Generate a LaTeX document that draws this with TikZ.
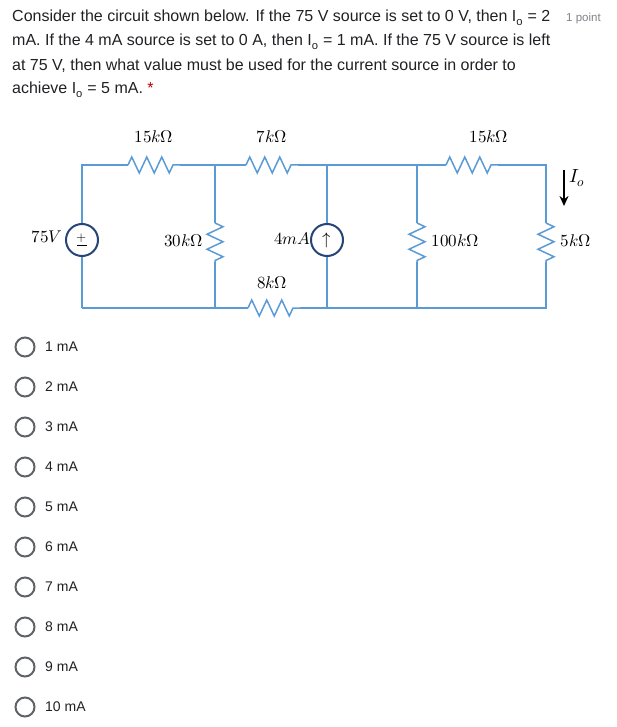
\documentclass[tikz,border=0pt]{standalone}
\usepackage{fontspec}
\setmainfont{Liberation Sans}
\usepackage{unicode-math}
\setmathfont{Latin Modern Math}
\usetikzlibrary{decorations.pathmorphing,arrows.meta}
\definecolor{wire}{RGB}{91,155,213}
\definecolor{srcc}{RGB}{38,68,120}
\definecolor{txt}{RGB}{32,33,36}
\definecolor{radio}{RGB}{95,99,104}
\tikzset{
  wirel/.style={draw=wire,line width=2.6pt},
  res/.style={draw=wire,line width=1.5pt,decorate,decoration={zigzag,segment length=15pt,amplitude=8pt}},
  src/.style={circle,draw=srcc,line width=2pt,minimum size=32pt,inner sep=0pt,fill=white},
  lbl/.style={font=\fontsize{17}{20}\selectfont},
  qtext/.style={anchor=west,text=txt,font=\fontsize{16}{19}\selectfont,inner sep=0pt},
  opt/.style={circle,draw=radio,line width=2pt,minimum size=19pt,inner sep=0pt},
  optl/.style={anchor=west,text=txt,font=\fontsize{14}{16}\selectfont,inner sep=0pt}
}
\begin{document}
\begin{tikzpicture}[x=1pt,y=-1pt]
\useasboundingbox (0,0) rectangle (617,727);
\node[qtext] (q1) at (12,18) {Consider the circuit shown below. If the 75 V source is set to 0 V, then I\textsubscript{o} = 2};
\node[anchor=west,text=radio!80,font=\fontsize{11.5}{13}\selectfont,inner sep=0pt] (pt) at (566,19) {1 point};
\node[qtext] (q2) at (12,42) {mA. If the 4 mA source is set to 0 A, then I\textsubscript{o} = 1 mA. If the 75 V source is left};
\node[qtext] (q3) at (12,66) {at 75 V, then what value must be used for the current source in order to};
\node[qtext] (q4) at (12,90) {achieve I\textsubscript{o} = 5 mA. \textcolor{red!70!black}{*}};
% nodes
\coordinate (tl) at (82,165); \coordinate (bl) at (82,308);
\coordinate (t1) at (215,165); \coordinate (b1) at (215,308);
\coordinate (t2) at (327,165); \coordinate (b2) at (327,308);
\coordinate (t3) at (417,165); \coordinate (b3) at (417,308);
\coordinate (t4) at (546,165); \coordinate (b4) at (546,308);
\coordinate (r1a) at (128,165); \coordinate (r1b) at (180,165);
\coordinate (r2a) at (246,165); \coordinate (r2b) at (298,165);
\coordinate (r3a) at (446,165); \coordinate (r3b) at (498,165);
\coordinate (r4a) at (215,223); \coordinate (r4b) at (215,262);
\coordinate (r5a) at (417,223); \coordinate (r5b) at (417,262);
\coordinate (r6a) at (546,223); \coordinate (r6b) at (546,262);
\coordinate (r7a) at (248,308); \coordinate (r7b) at (300,308);
\path[wirel] (bl) -- (tl) -- (r1a) (r1b) -- (r2a) (r2b) -- (r3a) (r3b) -- (t4) -- (r6a)
  (r6b) -- (b4) -- (r7b) (r7a) -- (bl)
  (t1) -- (r4a) (r4b) -- (b1) (t3) -- (r5a) (r5b) -- (b3) (t2) -- (b2);
\path[res] (r1a) -- (r1b); \path[res] (r2a) -- (r2b); \path[res] (r3a) -- (r3b);
\path[res] (r4a) -- (r4b); \path[res] (r5a) -- (r5b); \path[res] (r6a) -- (r6b);
\path[res] (r7a) -- (r7b);
\node[src] (vs) at (82,240) {\fontsize{13}{13}\selectfont$\underline{+}$};
\node[src] (cs) at (327,240) {\fontsize{17}{17}\selectfont$\boldsymbol{\uparrow}$};
\node[lbl] (l1) at (154,137) {$15k\Omega$};
\node[lbl] (l2) at (272,137) {$7k\Omega$};
\node[lbl] (l3) at (489,137) {$15k\Omega$};
\node[lbl,anchor=east] (l4) at (206,241) {$30k\Omega$};
\node[lbl,anchor=west] (l5) at (428,241) {$100k\Omega$};
\node[lbl,anchor=west] (l6) at (557,241) {$5k\Omega$};
\node[lbl,anchor=east] (l7) at (314,239) {$4mA$};
\node[lbl,anchor=east] (l8) at (66,237) {$75V$};
\node[lbl] (l9) at (272,283) {$8k\Omega$};
\node[font=\fontsize{19}{20}\selectfont] (io) at (577,178) {$I_o$};
\coordinate (ia) at (564,170); \coordinate (ib) at (564,206);
\draw[line width=2.2pt,-{Stealth[length=10pt,width=9pt]}] (ia) -- (ib);
% options
\foreach \v [count=\i from 0] in {1,2,3,4,5,6,7,8,9,10}{
  \node[opt] (o\i) at (25,{347+40*\i}) {};
  \node[optl] (ol\i) at (45,{347+40*\i}) {\v\ mA};
}
\end{tikzpicture}
\end{document}
